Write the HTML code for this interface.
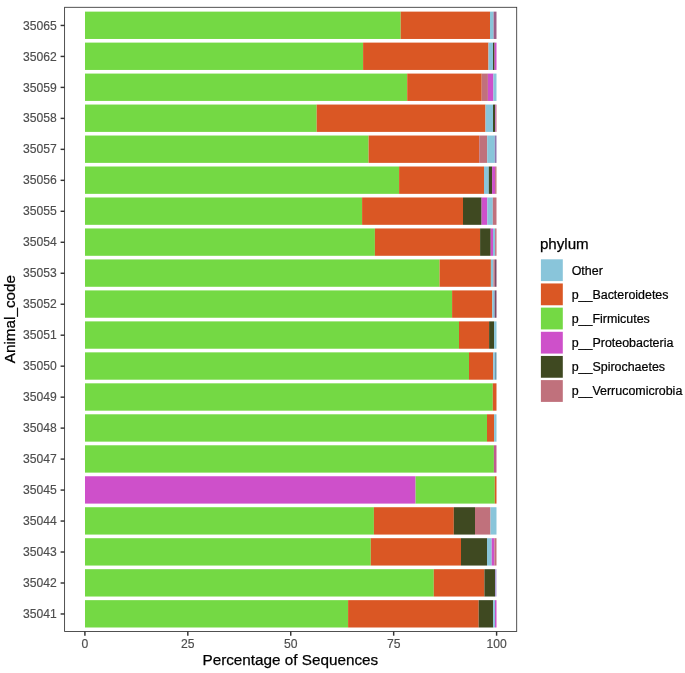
<!DOCTYPE html>
<html lang="en"><head><meta charset="utf-8"><title>Percentage of Sequences by phylum</title>
<style>
html,body{margin:0;padding:0;background:#fff;}
svg{display:block;filter:blur(0.4px);}
text{font-family:"Liberation Sans",sans-serif;}
.at{font-size:12.15px;fill:#4D4D4D;stroke:#4D4D4D;stroke-width:.15px;}
.tt{font-size:15.15px;fill:#000;stroke:#000;stroke-width:.25px;}
.lt{font-size:12.45px;fill:#000;stroke:#000;stroke-width:.22px;}
</style></head><body>
<svg width="685" height="673" viewBox="0 0 685 673">
<rect x="0" y="0" width="685" height="673" fill="#fff"/>
<g><rect x="85.00" y="11.62" width="315.70" height="27.35" fill="#74D944"/><rect x="400.70" y="11.62" width="89.30" height="27.35" fill="#DA5724"/><rect x="490.00" y="11.62" width="3.60" height="27.35" fill="#89C5DA"/><rect x="493.60" y="11.62" width="2.90" height="27.35" fill="#9C5E88"/></g>
<g><rect x="85.00" y="42.60" width="278.10" height="27.35" fill="#74D944"/><rect x="363.10" y="42.60" width="125.40" height="27.35" fill="#DA5724"/><rect x="488.50" y="42.60" width="4.50" height="27.35" fill="#89C5DA"/><rect x="493.00" y="42.60" width="1.60" height="27.35" fill="#3F4921"/><rect x="494.60" y="42.60" width="1.90" height="27.35" fill="#CE50CA"/></g>
<g><rect x="85.00" y="73.58" width="322.20" height="27.35" fill="#74D944"/><rect x="407.20" y="73.58" width="74.50" height="27.35" fill="#DA5724"/><rect x="481.70" y="73.58" width="6.20" height="27.35" fill="#C0717C"/><rect x="487.90" y="73.58" width="5.50" height="27.35" fill="#CE50CA"/><rect x="493.40" y="73.58" width="3.10" height="27.35" fill="#89C5DA"/></g>
<g><rect x="85.00" y="104.55" width="231.70" height="27.35" fill="#74D944"/><rect x="316.70" y="104.55" width="168.80" height="27.35" fill="#DA5724"/><rect x="485.50" y="104.55" width="7.50" height="27.35" fill="#89C5DA"/><rect x="493.00" y="104.55" width="2.30" height="27.35" fill="#3F4921"/><rect x="495.30" y="104.55" width="0.60" height="27.35" fill="#CE50CA"/><rect x="495.90" y="104.55" width="0.60" height="27.35" fill="#C0717C"/></g>
<g><rect x="85.00" y="135.53" width="283.60" height="27.35" fill="#74D944"/><rect x="368.60" y="135.53" width="110.60" height="27.35" fill="#DA5724"/><rect x="479.20" y="135.53" width="8.00" height="27.35" fill="#C0717C"/><rect x="487.20" y="135.53" width="7.60" height="27.35" fill="#89C5DA"/><rect x="494.80" y="135.53" width="1.70" height="27.35" fill="#8E78B0"/></g>
<g><rect x="85.00" y="166.50" width="314.10" height="27.35" fill="#74D944"/><rect x="399.10" y="166.50" width="84.90" height="27.35" fill="#DA5724"/><rect x="484.00" y="166.50" width="4.80" height="27.35" fill="#89C5DA"/><rect x="488.80" y="166.50" width="3.30" height="27.35" fill="#3F4921"/><rect x="492.10" y="166.50" width="3.00" height="27.35" fill="#CE50CA"/><rect x="495.10" y="166.50" width="1.40" height="27.35" fill="#C0717C"/></g>
<g><rect x="85.00" y="197.48" width="277.10" height="27.35" fill="#74D944"/><rect x="362.10" y="197.48" width="100.90" height="27.35" fill="#DA5724"/><rect x="463.00" y="197.48" width="18.60" height="27.35" fill="#3F4921"/><rect x="481.60" y="197.48" width="5.70" height="27.35" fill="#CE50CA"/><rect x="487.30" y="197.48" width="5.50" height="27.35" fill="#89C5DA"/><rect x="492.80" y="197.48" width="3.70" height="27.35" fill="#C0717C"/></g>
<g><rect x="85.00" y="228.45" width="289.90" height="27.35" fill="#74D944"/><rect x="374.90" y="228.45" width="105.20" height="27.35" fill="#DA5724"/><rect x="480.10" y="228.45" width="10.60" height="27.35" fill="#3F4921"/><rect x="490.70" y="228.45" width="2.30" height="27.35" fill="#CE50CA"/><rect x="493.00" y="228.45" width="2.10" height="27.35" fill="#89C5DA"/><rect x="495.10" y="228.45" width="1.40" height="27.35" fill="#C0717C"/></g>
<g><rect x="85.00" y="259.43" width="354.60" height="27.35" fill="#74D944"/><rect x="439.60" y="259.43" width="51.30" height="27.35" fill="#DA5724"/><rect x="490.90" y="259.43" width="2.50" height="27.35" fill="#89C5DA"/><rect x="493.40" y="259.43" width="1.40" height="27.35" fill="#C0717C"/><rect x="494.80" y="259.43" width="1.70" height="27.35" fill="#7A4A6A"/></g>
<g><rect x="85.00" y="290.40" width="367.10" height="27.35" fill="#74D944"/><rect x="452.10" y="290.40" width="40.20" height="27.35" fill="#DA5724"/><rect x="492.30" y="290.40" width="2.30" height="27.35" fill="#89C5DA"/><rect x="494.60" y="290.40" width="1.90" height="27.35" fill="#7A4A6A"/></g>
<g><rect x="85.00" y="321.38" width="374.00" height="27.35" fill="#74D944"/><rect x="459.00" y="321.38" width="30.10" height="27.35" fill="#DA5724"/><rect x="489.10" y="321.38" width="5.00" height="27.35" fill="#3F4921"/><rect x="494.10" y="321.38" width="2.40" height="27.35" fill="#89C5DA"/></g>
<g><rect x="85.00" y="352.35" width="384.00" height="27.35" fill="#74D944"/><rect x="469.00" y="352.35" width="24.20" height="27.35" fill="#DA5724"/><rect x="493.20" y="352.35" width="1.60" height="27.35" fill="#89C5DA"/><rect x="494.80" y="352.35" width="1.70" height="27.35" fill="#6A9AB0"/></g>
<g><rect x="85.00" y="383.33" width="407.80" height="27.35" fill="#74D944"/><rect x="492.80" y="383.33" width="3.70" height="27.35" fill="#DA5724"/></g>
<g><rect x="85.00" y="414.30" width="402.00" height="27.35" fill="#74D944"/><rect x="487.00" y="414.30" width="7.10" height="27.35" fill="#DA5724"/><rect x="494.10" y="414.30" width="2.40" height="27.35" fill="#89C5DA"/></g>
<g><rect x="85.00" y="445.28" width="408.90" height="27.35" fill="#74D944"/><rect x="493.90" y="445.28" width="2.60" height="27.35" fill="#BF5B8E"/></g>
<g><rect x="85.00" y="476.25" width="330.60" height="27.35" fill="#CE50CA"/><rect x="415.60" y="476.25" width="79.20" height="27.35" fill="#74D944"/><rect x="494.80" y="476.25" width="1.70" height="27.35" fill="#DA5724"/></g>
<g><rect x="85.00" y="507.22" width="288.90" height="27.35" fill="#74D944"/><rect x="373.90" y="507.22" width="79.90" height="27.35" fill="#DA5724"/><rect x="453.80" y="507.22" width="21.20" height="27.35" fill="#3F4921"/><rect x="475.00" y="507.22" width="15.50" height="27.35" fill="#C0717C"/><rect x="490.50" y="507.22" width="6.00" height="27.35" fill="#89C5DA"/></g>
<g><rect x="85.00" y="538.20" width="285.80" height="27.35" fill="#74D944"/><rect x="370.80" y="538.20" width="90.20" height="27.35" fill="#DA5724"/><rect x="461.00" y="538.20" width="26.00" height="27.35" fill="#3F4921"/><rect x="487.00" y="538.20" width="4.70" height="27.35" fill="#89C5DA"/><rect x="491.70" y="538.20" width="2.70" height="27.35" fill="#CE50CA"/><rect x="494.40" y="538.20" width="2.10" height="27.35" fill="#C0717C"/></g>
<g><rect x="85.00" y="569.18" width="348.80" height="27.35" fill="#74D944"/><rect x="433.80" y="569.18" width="50.60" height="27.35" fill="#DA5724"/><rect x="484.40" y="569.18" width="10.60" height="27.35" fill="#3F4921"/><rect x="495.00" y="569.18" width="1.50" height="27.35" fill="#B0A0D8"/></g>
<g><rect x="85.00" y="600.15" width="263.10" height="27.35" fill="#74D944"/><rect x="348.10" y="600.15" width="130.60" height="27.35" fill="#DA5724"/><rect x="478.70" y="600.15" width="14.50" height="27.35" fill="#3F4921"/><rect x="493.20" y="600.15" width="1.80" height="27.35" fill="#89C5DA"/><rect x="495.00" y="600.15" width="1.50" height="27.35" fill="#CE50CA"/></g>
<rect x="64.60" y="7.30" width="452.10" height="624.25" fill="none" stroke="#333" stroke-width="0.85"/>
<line x1="60.6" x2="64.60" y1="25.45" y2="25.45" stroke="#333" stroke-width="1.45"/><text class="at" x="56.75" y="29.55" text-anchor="end">35065</text>
<line x1="60.6" x2="64.60" y1="56.43" y2="56.43" stroke="#333" stroke-width="1.45"/><text class="at" x="56.75" y="60.53" text-anchor="end">35062</text>
<line x1="60.6" x2="64.60" y1="87.40" y2="87.40" stroke="#333" stroke-width="1.45"/><text class="at" x="56.75" y="91.50" text-anchor="end">35059</text>
<line x1="60.6" x2="64.60" y1="118.38" y2="118.38" stroke="#333" stroke-width="1.45"/><text class="at" x="56.75" y="122.48" text-anchor="end">35058</text>
<line x1="60.6" x2="64.60" y1="149.35" y2="149.35" stroke="#333" stroke-width="1.45"/><text class="at" x="56.75" y="153.45" text-anchor="end">35057</text>
<line x1="60.6" x2="64.60" y1="180.33" y2="180.33" stroke="#333" stroke-width="1.45"/><text class="at" x="56.75" y="184.43" text-anchor="end">35056</text>
<line x1="60.6" x2="64.60" y1="211.30" y2="211.30" stroke="#333" stroke-width="1.45"/><text class="at" x="56.75" y="215.40" text-anchor="end">35055</text>
<line x1="60.6" x2="64.60" y1="242.28" y2="242.28" stroke="#333" stroke-width="1.45"/><text class="at" x="56.75" y="246.38" text-anchor="end">35054</text>
<line x1="60.6" x2="64.60" y1="273.25" y2="273.25" stroke="#333" stroke-width="1.45"/><text class="at" x="56.75" y="277.35" text-anchor="end">35053</text>
<line x1="60.6" x2="64.60" y1="304.23" y2="304.23" stroke="#333" stroke-width="1.45"/><text class="at" x="56.75" y="308.33" text-anchor="end">35052</text>
<line x1="60.6" x2="64.60" y1="335.20" y2="335.20" stroke="#333" stroke-width="1.45"/><text class="at" x="56.75" y="339.30" text-anchor="end">35051</text>
<line x1="60.6" x2="64.60" y1="366.18" y2="366.18" stroke="#333" stroke-width="1.45"/><text class="at" x="56.75" y="370.28" text-anchor="end">35050</text>
<line x1="60.6" x2="64.60" y1="397.15" y2="397.15" stroke="#333" stroke-width="1.45"/><text class="at" x="56.75" y="401.25" text-anchor="end">35049</text>
<line x1="60.6" x2="64.60" y1="428.12" y2="428.12" stroke="#333" stroke-width="1.45"/><text class="at" x="56.75" y="432.23" text-anchor="end">35048</text>
<line x1="60.6" x2="64.60" y1="459.10" y2="459.10" stroke="#333" stroke-width="1.45"/><text class="at" x="56.75" y="463.20" text-anchor="end">35047</text>
<line x1="60.6" x2="64.60" y1="490.07" y2="490.07" stroke="#333" stroke-width="1.45"/><text class="at" x="56.75" y="494.18" text-anchor="end">35045</text>
<line x1="60.6" x2="64.60" y1="521.05" y2="521.05" stroke="#333" stroke-width="1.45"/><text class="at" x="56.75" y="525.15" text-anchor="end">35044</text>
<line x1="60.6" x2="64.60" y1="552.02" y2="552.02" stroke="#333" stroke-width="1.45"/><text class="at" x="56.75" y="556.12" text-anchor="end">35043</text>
<line x1="60.6" x2="64.60" y1="583.00" y2="583.00" stroke="#333" stroke-width="1.45"/><text class="at" x="56.75" y="587.10" text-anchor="end">35042</text>
<line x1="60.6" x2="64.60" y1="613.97" y2="613.97" stroke="#333" stroke-width="1.45"/><text class="at" x="56.75" y="618.07" text-anchor="end">35041</text>
<line x1="84.90" x2="84.90" y1="631.55" y2="635.7" stroke="#333" stroke-width="1.45"/><text class="at" x="84.90" y="648.1" text-anchor="middle">0</text>
<line x1="187.82" x2="187.82" y1="631.55" y2="635.7" stroke="#333" stroke-width="1.45"/><text class="at" x="187.82" y="648.1" text-anchor="middle">25</text>
<line x1="290.75" x2="290.75" y1="631.55" y2="635.7" stroke="#333" stroke-width="1.45"/><text class="at" x="290.75" y="648.1" text-anchor="middle">50</text>
<line x1="393.67" x2="393.67" y1="631.55" y2="635.7" stroke="#333" stroke-width="1.45"/><text class="at" x="393.67" y="648.1" text-anchor="middle">75</text>
<line x1="496.60" x2="496.60" y1="631.55" y2="635.7" stroke="#333" stroke-width="1.45"/><text class="at" x="496.60" y="648.1" text-anchor="middle">100</text>
<text class="tt" style="font-size:15.27px" x="290.3" y="665.4" text-anchor="middle">Percentage of Sequences</text>
<text class="tt" style="font-size:15.25px" transform="translate(15.2,319.1) rotate(-90)" text-anchor="middle">Animal_code</text>
<text class="tt" x="539.9" y="248.8">phylum</text>
<rect x="540.9" y="259.30" width="21.9" height="21.8" fill="#89C5DA"/><text class="lt" x="571.7" y="274.55">Other</text>
<rect x="540.9" y="283.46" width="21.9" height="21.8" fill="#DA5724"/><text class="lt" x="571.7" y="298.71">p__Bacteroidetes</text>
<rect x="540.9" y="307.62" width="21.9" height="21.8" fill="#74D944"/><text class="lt" x="571.7" y="322.87">p__Firmicutes</text>
<rect x="540.9" y="331.78" width="21.9" height="21.8" fill="#CE50CA"/><text class="lt" x="571.7" y="347.03">p__Proteobacteria</text>
<rect x="540.9" y="355.94" width="21.9" height="21.8" fill="#3F4921"/><text class="lt" x="571.7" y="371.19">p__Spirochaetes</text>
<rect x="540.9" y="380.10" width="21.9" height="21.8" fill="#C0717C"/><text class="lt" x="571.7" y="395.35">p__Verrucomicrobia</text>
</svg>
</body></html>
